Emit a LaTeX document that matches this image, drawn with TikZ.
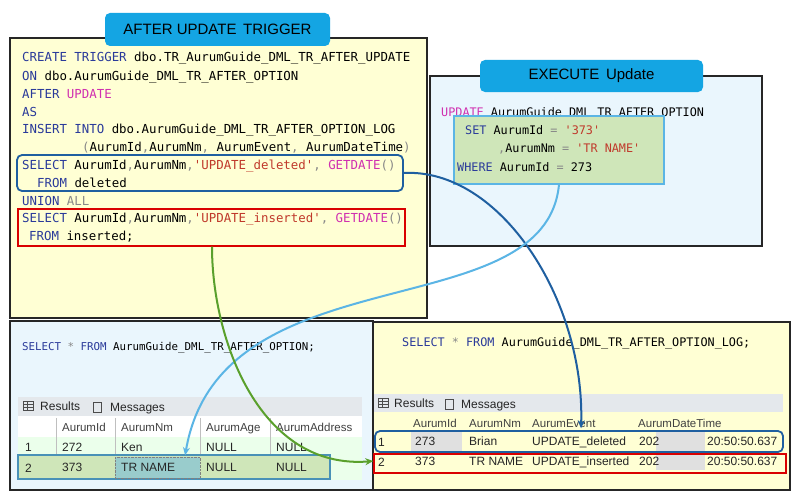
\documentclass[tikz,border=0pt]{standalone}
\usepackage{fontspec}
\usetikzlibrary{arrows.meta}
\setmainfont{Liberation Sans}
\newfontfamily\code{DejaVu Sans Mono}
\definecolor{kw}{HTML}{2A3A9A}
\definecolor{pk}{HTML}{D030B0}
\definecolor{st}{HTML}{C0392B}
\definecolor{gy}{HTML}{888888}
\definecolor{ylw}{HTML}{FFFFD4}
\definecolor{lbl}{HTML}{EAF6FD}
\definecolor{tab}{HTML}{14A5E3}
\definecolor{dblue}{HTML}{1F5FA0}
\definecolor{lblue}{HTML}{5BB5E5}
\definecolor{grn}{HTML}{5AA02C}
\definecolor{gfill}{HTML}{CFE6B9}
\definecolor{hdr}{HTML}{E4E8EC}
\newcommand\kw[1]{\textcolor{kw}{#1}}
\newcommand\pk[1]{\textcolor{pk}{#1}}
\newcommand\str[1]{\textcolor{st}{#1}}
\newcommand\gy[1]{\textcolor{gy}{#1}}
\begin{document}
\begin{tikzpicture}[x=1pt,y=-1pt,
  panel/.style={draw=black!85,line width=1.2pt},
  tabbox/.style={fill=tab,rounded corners=5pt,font=\fontsize{15}{17}\selectfont,text=black},
  cl/.style={anchor=base west,inner sep=0,font=\code\fontsize{12.4}{14}\selectfont},
  cr/.style={anchor=base west,inner sep=0,font=\code\fontsize{11.8}{14}\selectfont},
  cs/.style={anchor=base west,inner sep=0,font=\code\fontsize{10.8}{13}\selectfont},
  tx/.style={anchor=base west,inner sep=0,font=\fontsize{12}{14}\selectfont,text=black!85},
  th/.style={anchor=base west,inner sep=0,font=\fontsize{11.5}{13}\selectfont,text=black!75},
  arr/.style={line width=2pt,-{Stealth[length=8pt,width=7pt]}}]
\useasboundingbox (0,0) rectangle (800,503);
\fill[white] (0,0) rectangle (800,503);
% trigger panel
\draw[panel,fill=ylw] (10,38) rectangle (427,318);
\node[tabbox,minimum width=225pt,minimum height=33pt] (t1) at (217.5,29.5) {AFTER UPDATE\, TRIGGER};
\node[cl] (l1) at (22,62) {\kw{CREATE TRIGGER} dbo.TR\_AurumGuide\_DML\_TR\_AFTER\_UPDATE};
\node[cl] (l2) at (22,80) {\kw{ON} dbo.AurumGuide\_DML\_TR\_AFTER\_OPTION};
\node[cl] (l3) at (22,98) {\kw{AFTER} \pk{UPDATE}};
\node[cl] (l4) at (22,116) {\kw{AS}};
\node[cl] (l5) at (22,133) {\kw{INSERT INTO} dbo.AurumGuide\_DML\_TR\_AFTER\_OPTION\_LOG};
\node[cl] (l6) at (82,151) {\gy{(}AurumId\gy{,}AurumNm\gy{,} AurumEvent\gy{,} AurumDateTime\gy{)}};
\node[cl] (l7) at (22,169) {\kw{SELECT} AurumId\gy{,}AurumNm\gy{,}\str{'UPDATE\_deleted'}\gy{,} \pk{GETDATE}\gy{()}};
\node[cl] (l8) at (37,187) {\kw{FROM} deleted};
\node[cl] (l9) at (22,205) {\kw{UNION} \gy{ALL}};
\node[cl] (l10) at (22,222) {\kw{SELECT} AurumId\gy{,}AurumNm\gy{,}\str{'UPDATE\_inserted'}\gy{,} \pk{GETDATE}\gy{()}};
\node[cl] (l11) at (29,240) {\kw{FROM} inserted;};
\draw[dblue,line width=1.8pt,rounded corners=5pt] (17,155) rectangle (403,191);
\node[inner sep=0] (bbox) at (403,173) {};
\draw[red!85!black,line width=1.8pt] (18,209) rectangle (405,246);
\node[inner sep=0] (rbox) at (212,246) {};
% execute panel
\draw[panel,fill=lbl] (430,76) rectangle (762,246);
\node[tabbox,minimum width=223pt,minimum height=32pt] (t2) at (591.5,76) {EXECUTE\, Update};
\node[cr] (u1) at (441,116) {\pk{UPDATE} AurumGuide\_DML\_TR\_AFTER\_OPTION};
\node[draw=lblue,line width=1.2pt,fill=gfill,minimum width=210pt,minimum height=68pt,inner sep=0] (gbox) at (559,150) {};
\node[cr] (u2) at (465,134) {\kw{SET} AurumId \gy{=} \str{'373'}};
\node[cr] (u3) at (498,152) {\gy{,}AurumNm \gy{=} \str{'TR NAME'}};
\node[cr] (u4) at (457,171) {\kw{WHERE} AurumId \gy{=} 273};
% bottom left panel
\draw[panel,fill=lbl] (10,321) rectangle (373,490);
\node[cs] (s1) at (22,350) {\kw{SELECT} \gy{*} \kw{FROM} AurumGuide\_DML\_TR\_AFTER\_OPTION;};
\fill[hdr] (18,397) rectangle (362,416);
\fill[white] (18,416) rectangle (362,480);
\fill[green!8] (18,437) rectangle (362,480);
\node[tx] (r1) at (40,410) {Results};
\draw[black!70] (23,401) rectangle (33,410) (23,404)--(33,404) (23,407)--(33,407) (27,401)--(27,410);
\draw[black!70] (93,402) rectangle (101,412);
\node[tx] (m1) at (110,411) {Messages};
\node[th] (h1) at (62,431) {AurumId};
\node[th] (h2) at (121,431) {AurumNm};
\node[th] (h3) at (206,431) {AurumAge};
\node[th] (h4) at (276,431) {AurumAddress};
\draw[black!25] (56,418)--(56,480) (115,418)--(115,480) (200,418)--(200,480) (270,418)--(270,480);
\node[tx] (a1) at (25,451) {1};
\node[tx] (a2) at (62,451) {272};
\node[tx] (a3) at (121,451) {Ken};
\node[tx] (a4) at (206,451) {NULL};
\node[tx] (a5) at (276,451) {NULL};
\draw[lblue!80!black,line width=1.2pt,fill=gfill] (18,455) rectangle (330,479);
\draw[fill=teal!40,draw=black!50,densely dotted] (115,457) rectangle (200,478);
\node[inner sep=0] (tgt1) at (185,456) {};
\node[tx] (b1) at (25,472) {2};
\node[tx] (b2) at (62,471) {373};
\node[tx] (b3) at (121,471) {TR NAME};
\node[tx] (b4) at (206,471) {NULL};
\node[tx] (b5) at (276,471) {NULL};
% bottom right panel
\draw[panel,fill=ylw] (373,322) rectangle (790,490);
\node[cr] (s2) at (402,346) {\kw{SELECT} \gy{*} \kw{FROM} AurumGuide\_DML\_TR\_AFTER\_OPTION\_LOG;};
\fill[hdr] (374,394) rectangle (783,412);
\node[tx] (r2) at (394,407) {Results};
\draw[black!70] (378,398) rectangle (388,407) (378,401)--(388,401) (378,404)--(388,404) (382,398)--(382,407);
\draw[black!70] (445,399) rectangle (453,409);
\node[tx] (m2) at (461,408) {Messages};
\node[th] (k1) at (413,427) {AurumId};
\node[th] (k2) at (469,427) {AurumNm};
\node[th] (k3) at (532,427) {AurumEvent};
\node[th] (k4) at (638,427) {AurumDateTime};
\fill[black!12] (411,432) rectangle (462,451);
\fill[black!12] (656,431) rectangle (705,470);
\node[tx] (c1) at (378,446) {1};
\node[tx] (c2) at (415,445) {273};
\node[tx] (c3) at (469,445) {Brian};
\node[tx] (c4) at (532,445) {UPDATE\_deleted};
\node[tx] (c5) at (639,445) {202};
\node[tx] (c6) at (707,445) {20:50:50.637};
\node[tx] (d1) at (378,466) {2};
\node[tx] (d2) at (415,465) {373};
\node[tx] (d3) at (469,465) {TR NAME};
\node[tx] (d4) at (532,465) {UPDATE\_inserted};
\node[tx] (d5) at (639,465) {202};
\node[tx] (d6) at (707,465) {20:50:50.637};
\draw[dblue,line width=1.8pt,rounded corners=5pt] (375,431) rectangle (783,452);
\draw[red!85!black,line width=1.8pt] (374,454) rectangle (786,473);
\node[inner sep=0] (tgt2) at (581,429) {};
\node[inner sep=0] (tgt3) at (374,461) {};
% arrows
\draw[arr,dblue] (bbox) .. controls (500,168) and (585,300) .. (tgt2);
\draw[arr,lblue] (gbox.south) .. controls (545,330) and (220,250) .. (tgt1);
\draw[arr,grn] (rbox) .. controls (212,340) and (260,470) .. (tgt3);
\end{tikzpicture}
\end{document}
